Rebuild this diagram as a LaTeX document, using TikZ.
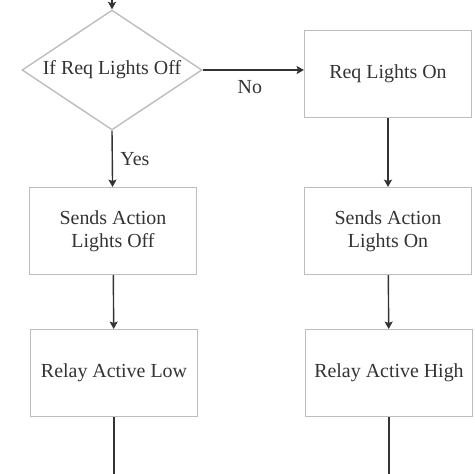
\documentclass[tikz,border=0pt]{standalone}
\usepackage{fontspec}
\setmainfont{Liberation Serif}
\usetikzlibrary{shapes.geometric,arrows.meta}
\definecolor{boxgray}{HTML}{BDBDBD}
\definecolor{inkgray}{HTML}{333333}
\begin{document}
\begin{tikzpicture}
[x=0.03cm,y=-0.03cm,
  arrowDecorate/.style={-{Stealth[length=2.2mm,width=2.4mm,inset=0.4mm]},very thick,draw=inkgray},
  lineDecorate/.style={very thick,draw=inkgray},
  textDecorate/.style={text=inkgray,font=\fontsize{17}{20}\selectfont,align=center},
  boxDecorate/.style={shape=rectangle,draw=boxgray,very thick,
    minimum width=5cm,minimum height=2.6cm,inner sep=0pt,textDecorate}]
\useasboundingbox (0,0) rectangle (474,474);
%% decision
\node (dec) at (112,70) [shape=diamond,draw=boxgray,very thick,
  minimum width=5.4cm,minimum height=3.6cm,inner sep=0pt] {};
\node (dectext) at (dec) [textDecorate] {If Req Lights Off};
%% boxes
\foreach \nodename/\x/\y/\words in {
  reqon/388/74/Req Lights On, sendoff/113/231/Sends Action\\Lights Off,
  sendon/388/231/Sends Action\\Lights On, relaylow/114/373/Relay Active Low,
  relayhigh/389/373/Relay Active High}
{
  \node (\nodename) at (\x,\y) [boxDecorate] {\words};
}
%% free ends
\coordinate (start) at (112,0);
\coordinate (endlow) at (114,474);
\coordinate (endhigh) at (389,474);
%% edges or lines
\path
\foreach \startnode/\endnode in {
  start/dec, reqon/sendon, sendoff/relaylow, sendon/relayhigh}
{
  (\startnode) edge[arrowDecorate] (\endnode)
}
(dec.south) edge[arrowDecorate] node[right=3pt,textDecorate] {Yes} (sendoff)
(dec.east) edge[arrowDecorate] node[below=5pt,textDecorate,xshift=-3pt] {No} (reqon.west |- dec.east)
(relaylow) edge[lineDecorate] (endlow)
(relayhigh) edge[lineDecorate] (endhigh);
\end{tikzpicture}
\end{document}
